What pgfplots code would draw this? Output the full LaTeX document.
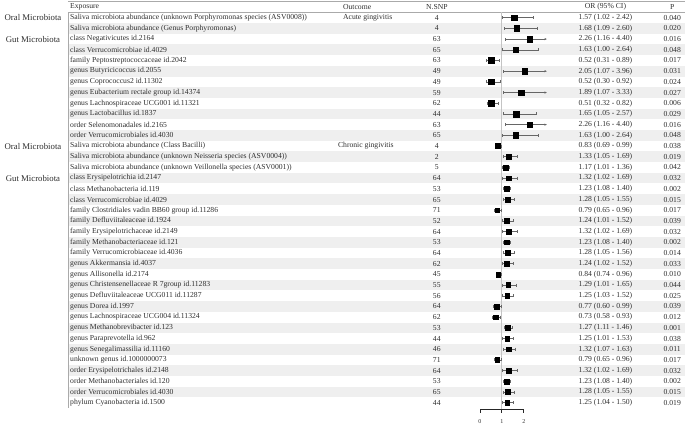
\documentclass[border=0pt]{standalone}
\usepackage{pgfplots}
\pgfplotsset{compat=1.18}
\usepackage{pgfplotstable}
\usepackage{fontspec}
\setmainfont{Liberation Serif}
\usetikzlibrary{arrows.meta}
\definecolor{txt}{HTML}{2E2E2E}
\definecolor{band}{HTML}{EFEFEF}
\definecolor{rulec}{HTML}{AAAAAA}
\definecolor{refl}{HTML}{C4C4C4}
\definecolor{cil}{HTML}{666666}
\newcommand\tabfont{\fontsize{7.7}{8}\selectfont}
\newcommand\grpfont{\fontsize{8.8}{10}\selectfont}

\pgfplotstableread[col sep=semicolon]{
row;expo;nsnp;or;lo;hi;ci;p
1;Saliva microbiota abundance (unknown Porphyromonas species (ASV0008));4;1.57;1.02;2.42;1.57 (1.02 - 2.42);0.040
2;Saliva microbiota abundance (Genus Porphyromonas);4;1.68;1.09;2.60;1.68 (1.09 - 2.60);0.020
3;class Negativicutes id.2164;63;2.26;1.16;4.40;2.26 (1.16 - 4.40);0.016
4;class Verrucomicrobiae id.4029;65;1.63;1.00;2.64;1.63 (1.00 - 2.64);0.048
5;family Peptostreptococcaceae id.2042;63;0.52;0.31;0.89;0.52 (0.31 - 0.89);0.017
6;genus Butyricicoccus id.2055;49;2.05;1.07;3.96;2.05 (1.07 - 3.96);0.031
7;genus Coprococcus2 id.11302;49;0.52;0.30;0.92;0.52 (0.30 - 0.92);0.024
8;genus Eubacterium rectale group id.14374;59;1.89;1.07;3.33;1.89 (1.07 - 3.33);0.027
9;genus Lachnospiraceae UCG001 id.11321;62;0.51;0.32;0.82;0.51 (0.32 - 0.82);0.006
10;genus Lactobacillus id.1837;44;1.65;1.05;2.57;1.65 (1.05 - 2.57);0.029
11;order Selenomonadales id.2165;63;2.26;1.16;4.40;2.26 (1.16 - 4.40);0.016
12;order Verrucomicrobiales id.4030;65;1.63;1.00;2.64;1.63 (1.00 - 2.64);0.048
13;Saliva microbiota abundance (Class Bacilli);4;0.83;0.69;0.99;0.83 (0.69 - 0.99);0.038
14;Saliva microbiota abundance (unknown Neisseria species (ASV0004));2;1.33;1.05;1.69;1.33 (1.05 - 1.69);0.019
15;Saliva microbiota abundance (unknown Veillonella species (ASV0001));5;1.17;1.01;1.36;1.17 (1.01 - 1.36);0.042
16;class Erysipelotrichia id.2147;64;1.32;1.02;1.69;1.32 (1.02 - 1.69);0.032
17;class Methanobacteria id.119;53;1.23;1.08;1.40;1.23 (1.08 - 1.40);0.002
18;class Verrucomicrobiae id.4029;65;1.28;1.05;1.55;1.28 (1.05 - 1.55);0.015
19;family Clostridiales vadin BB60 group id.11286;71;0.79;0.65;0.96;0.79 (0.65 - 0.96);0.017
20;family Defluviitaleaceae id.1924;52;1.24;1.01;1.52;1.24 (1.01 - 1.52);0.039
21;family Erysipelotrichaceae id.2149;64;1.32;1.02;1.69;1.32 (1.02 - 1.69);0.032
22;family Methanobacteriaceae id.121;53;1.23;1.08;1.40;1.23 (1.08 - 1.40);0.002
23;family Verrucomicrobiaceae id.4036;64;1.28;1.05;1.56;1.28 (1.05 - 1.56);0.014
24;genus Akkermansia id.4037;62;1.24;1.02;1.52;1.24 (1.02 - 1.52);0.033
25;genus Allisonella id.2174;45;0.84;0.74;0.96;0.84 (0.74 - 0.96);0.010
26;genus Christensenellaceae R 7group id.11283;55;1.29;1.01;1.65;1.29 (1.01 - 1.65);0.044
27;genus Defluviitaleaceae UCG011 id.11287;56;1.25;1.03;1.52;1.25 (1.03 - 1.52);0.025
28;genus Dorea id.1997;64;0.77;0.60;0.99;0.77 (0.60 - 0.99);0.039
29;genus Lachnospiraceae UCG004 id.11324;62;0.73;0.58;0.93;0.73 (0.58 - 0.93);0.012
30;genus Methanobrevibacter id.123;53;1.27;1.11;1.46;1.27 (1.11 - 1.46);0.001
31;genus Paraprevotella id.962;44;1.25;1.01;1.53;1.25 (1.01 - 1.53);0.038
32;genus Senegalimassilia id.11160;46;1.32;1.07;1.63;1.32 (1.07 - 1.63);0.011
33;unknown genus id.1000000073;71;0.79;0.65;0.96;0.79 (0.65 - 0.96);0.017
34;order Erysipelotrichales id.2148;64;1.32;1.02;1.69;1.32 (1.02 - 1.69);0.032
35;order Methanobacteriales id.120;53;1.23;1.08;1.40;1.23 (1.08 - 1.40);0.002
36;order Verrucomicrobiales id.4030;65;1.28;1.05;1.55;1.28 (1.05 - 1.55);0.015
37;phylum Cyanobacteria id.1500;44;1.25;1.04;1.50;1.25 (1.04 - 1.50);0.019
}\datatable

\begin{document}
\begin{tikzpicture}
\begin{axis}[
  width=685bp, height=426bp, scale only axis, hide axis,
  xmin=-21.818, xmax=9.318, ymin=-0.654, ymax=39.16, y dir=reverse,
  clip=false,
]
% background bands
\pgfplotsinvokeforeach{2,4,...,36}{
  \fill[band] (axis cs:-18.727,#1-0.5) rectangle (axis cs:9.318,#1+0.5);
}
\draw[rulec, line width=0.6pt] (axis cs:-18.727,-0.5) -- (axis cs:9.318,-0.5);
\draw[rulec, line width=0.6pt] (axis cs:-18.727,0.5) -- (axis cs:9.318,0.5);
\draw[rulec, line width=0.6pt] (axis cs:-18.727,0.5) -- (axis cs:-18.727,37.5);
\draw[refl, line width=0.7pt] (axis cs:1,0.5) -- (axis cs:1,37.6);

% header
\node[anchor=west, inner sep=0pt, font=\tabfont, text=txt] at (axis cs:-18.636,0) {Exposure};
\node[anchor=west, inner sep=0pt, font=\tabfont, text=txt] at (axis cs:-6.227,0) {Outcome};
\node[inner sep=0pt, font=\tabfont, text=txt] at (axis cs:-1.9545,0) {N.SNP};
\node[inner sep=0pt, font=\tabfont, text=txt] at (axis cs:5.7136,0) {OR (95\% CI)};
\node[inner sep=0pt, font=\tabfont, text=txt] at (axis cs:8.75,0) {P};

% group labels
\node[inner sep=0pt, font=\grpfont, text=txt] at (axis cs:-20.318,1) {Oral Microbiota};
\node[inner sep=0pt, font=\grpfont, text=txt] at (axis cs:-20.318,3) {Gut Microbiota};
\node[inner sep=0pt, font=\grpfont, text=txt] at (axis cs:-20.318,13) {Oral Microbiota};
\node[inner sep=0pt, font=\grpfont, text=txt] at (axis cs:-20.318,16) {Gut Microbiota};
% outcomes
\node[anchor=west, inner sep=0pt, font=\tabfont, text=txt] at (axis cs:-6.227,1) {Acute gingivitis};
\node[anchor=west, inner sep=0pt, font=\tabfont, text=txt] at (axis cs:-6.4545,13) {Chronic gingivitis};

% text columns
\addplot[only marks, mark=none, nodes near coords, point meta=explicit symbolic,
  nodes near coords style={anchor=west, inner sep=0pt, font=\tabfont, text=txt}]
  table[x expr=-18.636, y=row, meta=expo] {\datatable};
\addplot[only marks, mark=none, nodes near coords, point meta=explicit symbolic,
  nodes near coords style={anchor=center, inner sep=0pt, font=\tabfont, text=txt}]
  table[x expr=-1.9545, y=row, meta=nsnp] {\datatable};
\addplot[only marks, mark=none, nodes near coords, point meta=explicit symbolic,
  nodes near coords style={anchor=center, inner sep=0pt, font=\tabfont, text=txt}]
  table[x expr=5.7136, y=row, meta=ci] {\datatable};
\addplot[only marks, mark=none, nodes near coords, point meta=explicit symbolic,
  nodes near coords style={anchor=center, inner sep=0pt, font=\tabfont, text=txt}]
  table[x expr=8.75, y=row, meta=p] {\datatable};

% clipped upper CIs (arrows)
\addplot[only marks, mark=none, restrict expr to domain={\thisrow{hi}}{3:100},
  error bars/.cd, x dir=plus, x explicit, error mark=none,
  error bar style={cil, line width=0.5pt, -{Stealth[length=2.5pt,width=2.2pt]}}]
  table[x=or, y=row, x error plus expr=3.05-\thisrow{or}] {\datatable};
\addplot[only marks, mark=square*, mark size=2.8pt, mark options={fill=black, draw=black},
  restrict expr to domain={\thisrow{hi}}{3:100},
  error bars/.cd, x dir=minus, x explicit, error mark=|,
  error bar style={cil, line width=0.5pt}, error mark options={cil, mark size=1.5pt, line width=0.5pt}]
  table[x=or, y=row, x error minus expr=\thisrow{or}-\thisrow{lo}] {\datatable};
% regular CIs, acute gingivitis
\addplot[only marks, mark=square*, mark size=2.8pt, mark options={fill=black, draw=black},
  restrict expr to domain={\thisrow{hi}}{0:3}, restrict y to domain=0:12.5,
  error bars/.cd, x dir=both, x explicit, error mark=|,
  error bar style={cil, line width=0.5pt}, error mark options={cil, mark size=1.5pt, line width=0.5pt}]
  table[x=or, y=row, x error plus expr=\thisrow{hi}-\thisrow{or}, x error minus expr=\thisrow{or}-\thisrow{lo}] {\datatable};
% regular CIs, chronic gingivitis
\addplot[only marks, mark=square*, mark size=2.4pt, mark options={fill=black, draw=black},
  restrict y to domain=12.5:40,
  error bars/.cd, x dir=both, x explicit, error mark=|,
  error bar style={cil, line width=0.5pt}, error mark options={cil, mark size=1.5pt, line width=0.5pt}]
  table[x=or, y=row, x error plus expr=\thisrow{hi}-\thisrow{or}, x error minus expr=\thisrow{or}-\thisrow{lo}] {\datatable};

% x axis
\draw[black!85, line width=0.6pt] (axis cs:0,37.95) -- (axis cs:0,37.6) -- (axis cs:2,37.6) -- (axis cs:2,37.95);
\draw[black!85, line width=0.6pt] (axis cs:1,37.6) -- (axis cs:1,37.95);
\node[inner sep=0pt, font=\fontsize{6}{7}\selectfont, text=txt] at (axis cs:0,38.8) {0};
\node[inner sep=0pt, font=\fontsize{6}{7}\selectfont, text=txt] at (axis cs:1,38.8) {1};
\node[inner sep=0pt, font=\fontsize{6}{7}\selectfont, text=txt] at (axis cs:2,38.8) {2};
\path (rel axis cs:0,0) rectangle (rel axis cs:1,1);
\end{axis}
\end{tikzpicture}
\end{document}
